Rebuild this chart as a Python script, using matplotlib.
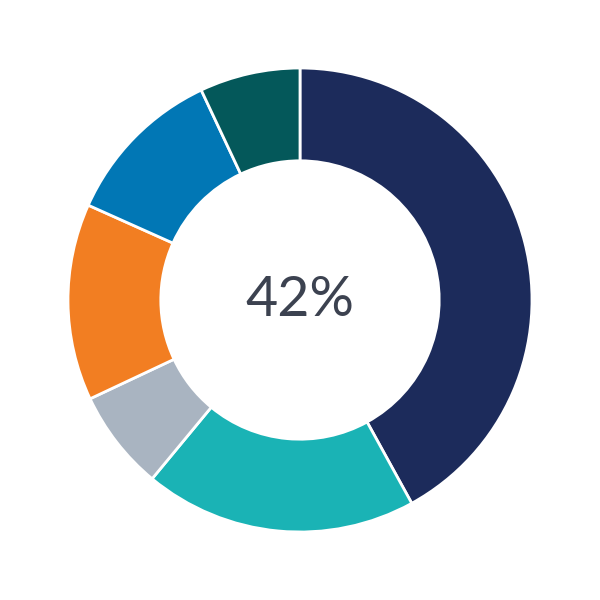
import matplotlib.pyplot as plt

shares = [42, 19, 7, 13.7, 11.3, 7]
colors = ["#1c2b5b", "#1ab3b5", "#a9b4c1", "#f27e22", "#0177b5", "#04585a"]
center_label = "42%"

fig = plt.figure(figsize=(6, 6), dpi=100)
ax = fig.add_axes([0, 0, 1, 1])
ax.pie(shares, colors=colors, startangle=90, counterclock=False, radius=1,
       wedgeprops=dict(width=0.4, edgecolor="white", linewidth=2.0))
lim = 300 / 232
ax.set_xlim(-lim, lim)
ax.set_ylim(-lim, lim)
ax.set_aspect("equal")
ax.axis("off")
ax.text(0, 0.0, center_label, ha="center", va="center", fontsize=40,
        color="#3c4250", family="Lato")

fig.savefig("out.png", dpi=100, facecolor="white")
